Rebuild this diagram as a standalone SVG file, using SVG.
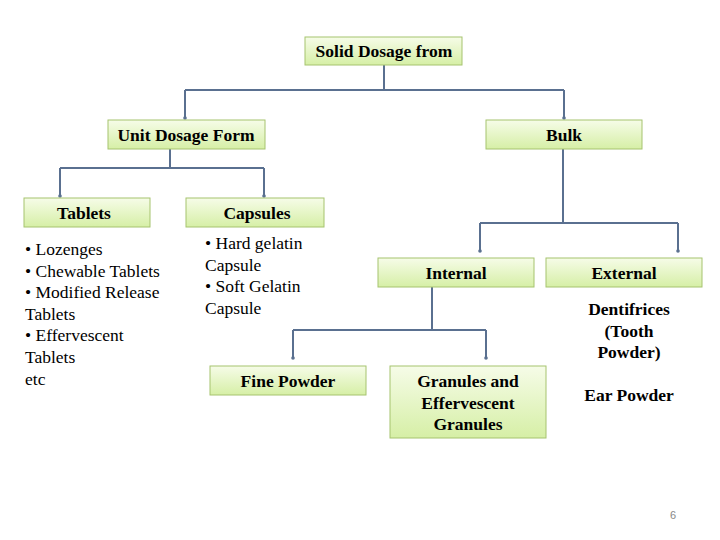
<svg xmlns="http://www.w3.org/2000/svg" width="720" height="540" viewBox="0 0 720 540">
<defs>
<linearGradient id="g" x1="0" y1="0" x2="0" y2="1"><stop offset="0" stop-color="#f6fce8"/><stop offset="1" stop-color="#d6efa6"/></linearGradient>
<marker id="d" markerWidth="4" markerHeight="4" refX="2" refY="2" markerUnits="userSpaceOnUse"><circle cx="2" cy="2" r="1.8" fill="#5a7090"/></marker>
<style>
.b{fill:url(#g);stroke:#a6c36f;stroke-width:1}
.t{font-family:"Liberation Serif",serif;font-size:17.5px;font-weight:bold;fill:#000;text-anchor:middle}
.p{font-family:"Liberation Serif",serif;font-size:17.5px;fill:#000}
.c{fill:none;stroke:#5a7090;stroke-width:2}
</style>
</defs>
<rect width="720" height="540" fill="#fff"/>
<g id="connectors">
<path class="c" d="M384,65V90M185,90H564"/>
<path class="c" d="M185,90V118" marker-end="url(#d)"/>
<path class="c" d="M564,90V118" marker-end="url(#d)"/>
<path class="c" d="M170,149V168M60,168H264"/>
<path class="c" d="M60,168V196" marker-end="url(#d)"/>
<path class="c" d="M264,168V196" marker-end="url(#d)"/>
<path class="c" d="M563,149V223M480,223H678"/>
<path class="c" d="M480,223V251" marker-end="url(#d)"/>
<path class="c" d="M678,223V251" marker-end="url(#d)"/>
<path class="c" d="M432,287V330M293,330H486"/>
<path class="c" d="M293,330V358" marker-end="url(#d)"/>
<path class="c" d="M486,330V358" marker-end="url(#d)"/>
</g>
<g id="solid"><rect class="b" x="305" y="37" width="157" height="28"/><text class="t" x="384" y="57">Solid Dosage from</text></g>
<g id="unit"><rect class="b" x="108" y="120" width="157" height="29"/><text class="t" x="186" y="141">Unit Dosage Form</text></g>
<g id="bulk"><rect class="b" x="486" y="120" width="156" height="29"/><text class="t" x="564" y="141">Bulk</text></g>
<g id="tablets"><rect class="b" x="24" y="198" width="126" height="29"/><text class="t" x="84" y="219">Tablets</text></g>
<g id="capsules"><rect class="b" x="186" y="198" width="138" height="29"/><text class="t" x="257" y="219">Capsules</text></g>
<g id="tablist"><text class="p" x="25" y="255">• Lozenges</text><text class="p" x="25" y="277">• Chewable Tablets</text><text class="p" x="25" y="298">• Modified Release</text><text class="p" x="25" y="320">Tablets</text><text class="p" x="25" y="341">• Effervescent</text><text class="p" x="25" y="363">Tablets</text><text class="p" x="25" y="385">etc</text></g>
<g id="caplist"><text class="p" x="205" y="249">• Hard gelatin</text><text class="p" x="205" y="271">Capsule</text><text class="p" x="205" y="292">• Soft Gelatin</text><text class="p" x="205" y="314">Capsule</text></g>
<g id="internal"><rect class="b" x="378" y="258" width="156" height="29"/><text class="t" x="456" y="279">Internal</text></g>
<g id="external"><rect class="b" x="546" y="258" width="156" height="29"/><text class="t" x="624" y="279">External</text></g>
<g id="extlist"><text class="t" x="629" y="315">Dentifrices</text><text class="t" x="629" y="337">(Tooth</text><text class="t" x="629" y="358">Powder)</text><text class="t" x="629" y="401">Ear Powder</text></g>
<g id="fine"><rect class="b" x="210" y="366" width="156" height="29"/><text class="t" x="288" y="387">Fine Powder</text></g>
<g id="granules"><rect class="b" x="390" y="366" width="156" height="72"/><text class="t" x="468" y="387">Granules and</text><text class="t" x="468" y="409">Effervescent</text><text class="t" x="468" y="430">Granules</text></g>
<text x="673" y="519" font-family="Liberation Sans,sans-serif" font-size="11" fill="#888" text-anchor="middle">6</text>
</svg>
